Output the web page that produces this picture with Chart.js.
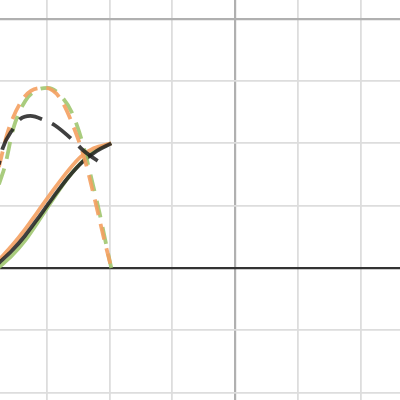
<!DOCTYPE html>
<html>
<head>
<meta charset="utf-8">
<script src="https://cdn.jsdelivr.net/npm/chart.js@4/dist/chart.umd.min.js"></script>
<style>
  html, body { margin: 0; padding: 0; background: #fff; }
  #wrap { width: 400px; height: 400px; }
</style>
</head>
<body>
<div id="wrap"><canvas id="graph"></canvas></div>
<script>
// Axis window (grid unit = 1)
const xRange = [-3.742, 2.627];
const yRange = [-2.118, 4.30];
const xTicks = [-3, -2, -1, 0, 1, 2];
const yTicks = [-2, -1, 0, 1, 2, 3, 4];

// Dashed curves
const blackDashX = [-3.76, -3.70, -3.53, -3.42, -3.26, -3.03, -2.87, -2.55, -2.42, -2.10];
const blackDashY = [1.66, 1.92, 2.24, 2.39, 2.44, 2.37, 2.29, 2.02, 1.89, 1.66];

const orangeDashX = [-3.76, -3.61, -3.34, -3.03, -2.79, -2.55, -2.39, -2.23, -2.10, -1.97];
const orangeDashY = [1.62, 2.21, 2.76, 2.89, 2.73, 2.21, 1.73, 1.09, 0.53, 0.0];

const greenDashX = [-3.76, -3.66, -3.53, -3.34, -3.18, -2.98, -2.79, -2.60, -2.44, -2.28, -2.15, -2.05, -1.97];
const greenDashY = [1.34, 1.65, 2.24, 2.68, 2.84, 2.89, 2.78, 2.50, 2.05, 1.41, 0.85, 0.37, 0.0];

// Solid curves
const blackSolidX = [-3.76, -3.55, -3.35, -3.15, -2.90, -2.65, -2.42, -2.20, -1.97];
const blackSolidY = [0.08, 0.28, 0.51, 0.78, 1.13, 1.46, 1.71, 1.88, 2.0];

const orangeSolidX = [-3.76, -3.55, -3.35, -3.15, -2.90, -2.65, -2.45, -2.25, -1.97];
const orangeSolidY = [0.13, 0.36, 0.61, 0.89, 1.24, 1.57, 1.79, 1.92, 2.0];

const greenSolidX = [-3.76, -3.55, -3.35, -3.15, -2.90, -2.65, -2.42, -2.20, -1.97];
const greenSolidY = [0.01, 0.20, 0.43, 0.72, 1.10, 1.46, 1.72, 1.90, 2.0];

const BLACK = 'rgba(30, 30, 30, 0.85)';
const ORANGE = 'rgba(244, 160, 96, 0.9)';
const GREEN = 'rgba(160, 198, 112, 0.9)';

function points(xs, ys) {
    return xs.map((x, i) => ({ x: x, y: ys[i] }));
}

function curve(xs, ys, color, dash, offset) {
    return {
        data: points(xs, ys),
        showLine: true,
        borderColor: color,
        borderWidth: 3.8,
        borderDash: dash,
        borderDashOffset: offset || 0,
        pointRadius: 0,
        cubicInterpolationMode: 'monotone',
        tension: 0.4,
        clip: false
    };
}

function setTicks(values) {
    return scale => { scale.ticks = values.map(v => ({ value: v })); };
}

// Chart.js draws the first dataset on top, so list from top to bottom
new Chart('graph', {
    type: 'scatter',
    data: {
        datasets: [
            curve(blackDashX, blackDashY, BLACK, [24, 11], 20),
            curve(orangeDashX, orangeDashY, ORANGE, [16, 9]),
            curve(greenDashX, greenDashY, GREEN, [17, 10]),
            curve(blackSolidX, blackSolidY, BLACK, []),
            curve(orangeSolidX, orangeSolidY, ORANGE, []),
            curve(greenSolidX, greenSolidY, GREEN, [])
        ]
    },
    options: {
        responsive: true,
        maintainAspectRatio: false,
        animation: false,
        layout: { padding: 0 },
        plugins: { legend: { display: false }, tooltip: { enabled: false } },
        scales: {
            x: {
                type: 'linear',
                min: xRange[0],
                max: xRange[1],
                afterBuildTicks: setTicks(xTicks),
                border: { display: false },
                ticks: { display: false },
                grid: {
                    drawTicks: false,
                    color: ctx => ctx.tick.value === 0 ? '#b0b0b0' : '#dddddd',
                    lineWidth: ctx => ctx.tick.value === 0 ? 2.2 : 1.8
                }
            },
            y: {
                type: 'linear',
                min: yRange[0],
                max: yRange[1],
                afterBuildTicks: setTicks(yTicks),
                border: { display: false },
                ticks: { display: false },
                grid: {
                    drawTicks: false,
                    color: ctx => {
                        if (ctx.tick.value === 0) return '#333333';
                        if (ctx.tick.value === 4) return '#b0b0b0';
                        return '#dddddd';
                    },
                    lineWidth: ctx => (ctx.tick.value === 0 || ctx.tick.value === 4) ? 2.2 : 1.8
                }
            }
        }
    }
});
</script>
</body>
</html>
